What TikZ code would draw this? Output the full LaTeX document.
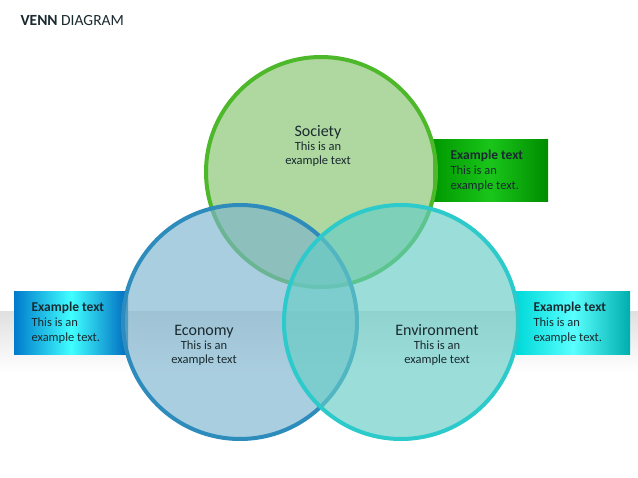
\documentclass[tikz,border=0pt]{standalone}
\usepackage{fontspec}
\setmainfont{Carlito}
\definecolor{gfill}{HTML}{84C46C}
\definecolor{gline}{HTML}{4CB82A}
\definecolor{bfill}{HTML}{7CB4CE}
\definecolor{bline}{HTML}{2E8CBC}
\definecolor{tfill}{HTML}{66CCC6}
\definecolor{tline}{HTML}{2CCACA}
\definecolor{txt}{HTML}{1A2A30}
\begin{document}
\begin{tikzpicture}[x=1pt,y=-1pt,
  tbox/.style={minimum width=114pt,minimum height=62pt,anchor=north west,inner sep=0pt},
  ring/.style={line width=4pt,fill opacity=0.65},
  every node/.style={text=txt}]
\useasboundingbox (0,0) rectangle (638,478);
\fill[white] (0,0) rectangle (638,478);
\shade[top color=black!12,bottom color=white] (0,312) rectangle (638,372);
\node[anchor=west,font=\fontsize{15.5}{18}\selectfont] (title) at (17,21) {\textbf{VENN} DIAGRAM};
% boxes
\shade[left color=green!60!black,right color=green!55!black,middle color=green!75!black!90!white] (433,140) rectangle (548,202);
\node[tbox] (gb) at (433,140) {};
\shade[left color=cyan!60!blue!80!black,right color=cyan!55!blue!75!black,middle color=cyan!75!white] (14,292) rectangle (128,355);
\node[tbox] (lb) at (14,292) {};
\shade[left color=cyan!70!teal,right color=cyan!60!teal!85!black,middle color=cyan!65!white] (516,292) rectangle (630,355);
\node[tbox] (rb) at (516,292) {};
% circles
\draw[ring,draw=gline,fill=gfill] (321,172) circle (115) node (soc) {};
\draw[ring,draw=bline,fill=bfill] (240,322) circle (117) node (eco) {};
\draw[ring,draw=tline,fill=tfill] (401,322) circle (117) node (env) {};
% texts
\node[align=center,font=\fontsize{12.5}{14}\selectfont] at (318,146) {{\fontsize{16}{19}\selectfont Society}\\This is an\\example text};
\node[align=center,font=\fontsize{12.5}{14}\selectfont] at (204,345) {{\fontsize{16}{19}\selectfont Economy}\\This is an\\example text};
\node[align=center,font=\fontsize{12.5}{14}\selectfont] at (437,345) {{\fontsize{16}{19}\selectfont Environment}\\This is an\\example text};
\node[anchor=north west,align=left,font=\fontsize{12.5}{15}\selectfont] at (447,146) {\textbf{\fontsize{13.5}{16}\selectfont Example text}\\This is an\\example text.};
\node[anchor=north west,align=left,font=\fontsize{12.5}{15}\selectfont] at (28,298) {\textbf{\fontsize{13.5}{16}\selectfont Example text}\\This is an\\example text.};
\node[anchor=north west,align=left,font=\fontsize{12.5}{15}\selectfont] at (530,298) {\textbf{\fontsize{13.5}{16}\selectfont Example text}\\This is an\\example text.};
\end{tikzpicture}
\end{document}
